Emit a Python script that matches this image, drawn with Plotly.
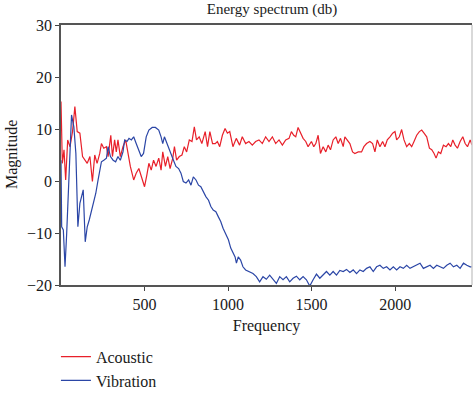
import plotly.graph_objects as go

acoustic_freq = [0, 8, 18, 28, 40, 54, 69, 83, 97, 113, 129, 143, 157, 173, 188, 202, 216, 232, 242, 256,
                 272, 282, 298, 308, 321, 331, 341, 355, 371, 387, 401, 415, 435, 450, 466, 480, 500, 514, 526, 540,
                 554, 569, 585, 599, 609, 625, 639, 653, 669, 679, 692, 708, 724, 738, 752, 768, 784, 798, 811, 827,
                 843, 863, 877, 891, 907, 923, 936, 950, 966, 982, 996, 1010, 1029, 1049, 1069, 1085, 1105, 1125, 1145, 1165,
                 1185, 1205, 1225, 1245, 1265, 1285, 1305, 1325, 1345, 1365, 1379, 1393, 1405, 1419, 1433, 1449, 1465, 1479, 1499, 1513,
                 1525, 1539, 1553, 1569, 1585, 1599, 1613, 1629, 1645, 1659, 1673, 1689, 1699, 1713, 1729, 1745, 1759, 1779, 1799, 1813,
                 1829, 1849, 1865, 1879, 1893, 1909, 1925, 1939, 1953, 1969, 1985, 1999, 2009, 2025, 2039, 2053, 2069, 2085, 2099, 2113,
                 2129, 2145, 2159, 2173, 2189, 2205, 2219, 2233, 2245, 2259, 2273, 2289, 2305, 2319, 2333, 2345, 2359, 2373, 2389, 2405,
                 2419, 2433, 2449, 2460]
acoustic_mag = [15.3, 3.4, 6.0, 0.2, 7.9, 6.6, 9.5, 14.3, 9.5, 9.2, 4.7, 4.0, 3.4, 4.7, -0.1, 5.0, 3.4, 5.3, 7.2, 6.3,
                6.6, 4.7, 8.8, 4.7, 7.9, 5.6, 7.9, 4.7, 6.6, 7.9, 5.3, 2.8, 0.2, 1.5, 2.4, 0.8, -1.1, 1.2, 3.4, 2.1,
                4.0, 2.8, 4.4, 2.1, 5.6, 2.8, 4.7, 2.4, 4.4, 6.6, 4.0, 4.7, 5.0, 6.6, 5.6, 7.9, 7.6, 10.4, 7.9, 8.5,
                7.2, 9.5, 6.6, 9.5, 7.2, 7.2, 7.6, 6.6, 8.8, 10.1, 9.2, 9.5, 6.6, 8.2, 6.9, 8.5, 7.2, 7.6, 6.9, 7.6,
                7.9, 7.2, 8.5, 7.6, 8.5, 7.2, 7.9, 6.9, 7.9, 8.2, 9.5, 8.8, 8.5, 10.3, 9.2, 8.2, 7.6, 6.6, 7.6, 6.6,
                7.2, 8.8, 5.3, 6.6, 5.6, 6.9, 6.0, 7.9, 8.5, 7.2, 8.2, 6.6, 8.5, 7.9, 7.2, 5.6, 5.3, 5.6, 5.6, 6.6,
                7.2, 7.6, 7.2, 5.6, 7.9, 6.6, 7.6, 6.6, 7.9, 8.5, 9.2, 9.5, 7.9, 8.5, 9.9, 7.9, 6.6, 7.2, 6.6, 7.6,
                8.8, 9.5, 9.8, 9.2, 8.5, 6.3, 6.0, 5.3, 4.4, 5.6, 5.3, 6.9, 6.6, 7.2, 6.6, 7.9, 6.9, 6.3, 7.6, 8.5,
                7.2, 6.6, 7.9, 6.9]

vibration_freq = [0, 4, 14, 24, 34, 44, 54, 63, 77, 89, 101, 113, 123, 133, 145, 157, 169, 183, 196, 208,
                  222, 232, 242, 256, 272, 282, 296, 312, 327, 341, 355, 371, 381, 395, 407, 421, 435, 450, 466, 480,
                  494, 510, 526, 546, 565, 585, 599, 609, 619, 629, 645, 659, 673, 688, 704, 718, 732, 748, 764, 778,
                  792, 808, 823, 837, 851, 867, 883, 897, 911, 927, 942, 956, 970, 986, 1002, 1016, 1030, 1042, 1050, 1061,
                  1075, 1089, 1105, 1121, 1129, 1149, 1169, 1189, 1209, 1229, 1249, 1269, 1289, 1309, 1329, 1349, 1369, 1389, 1409, 1429,
                  1449, 1469, 1489, 1509, 1529, 1549, 1569, 1589, 1609, 1629, 1649, 1669, 1689, 1709, 1729, 1749, 1769, 1789, 1809, 1829,
                  1849, 1869, 1889, 1909, 1929, 1949, 1969, 1989, 2009, 2029, 2049, 2069, 2089, 2109, 2129, 2149, 2169, 2189, 2209, 2229,
                  2249, 2269, 2289, 2309, 2329, 2349, 2369, 2389, 2409, 2429, 2449, 2460]
vibration_mag = [4.0, -8.8, -9.4, -16.5, -10.1, -1.1, 7.2, 12.7, 10.4, 5.3, -8.8, -4.3, -3.0, -1.7, -11.7, -8.8, -7.5, -5.6, -4.3, -2.4,
                 0.2, 2.1, 3.7, 4.0, 4.4, 6.6, 4.7, 4.0, 3.7, 4.7, 4.0, 5.6, 7.9, 7.6, 8.2, 7.9, 8.5, 7.2, 6.0, 4.7,
                 5.3, 8.5, 9.8, 10.3, 10.3, 9.8, 8.5, 7.2, 8.5, 7.6, 6.3, 5.0, 4.0, 2.8, 2.4, 1.5, -0.1, -0.4, 0.2, -0.8,
                 0.8, 0.2, -0.8, -1.1, -2.1, -3.0, -3.7, -4.9, -5.6, -5.9, -6.9, -7.8, -9.1, -10.1, -11.3, -12.9, -13.9, -14.6, -15.8, -14.6,
                 -15.2, -16.5, -17.1, -17.4, -17.4, -17.8, -18.4, -19.4, -18.4, -18.9, -18.1, -19.0, -19.7, -18.4, -19.0, -18.4, -19.4, -18.7, -18.3, -19.0,
                 -18.4, -19.0, -20.2, -19.0, -17.9, -18.7, -18.1, -17.4, -18.1, -17.4, -18.1, -17.2, -17.4, -17.0, -17.6, -17.1, -17.8, -17.1, -17.4, -16.8,
                 -16.5, -17.4, -16.5, -16.2, -16.8, -16.5, -17.1, -16.5, -17.1, -16.5, -16.8, -16.2, -16.8, -16.5, -16.2, -15.8, -16.8, -16.5, -16.2, -16.8,
                 -16.2, -16.5, -16.8, -16.2, -15.8, -16.5, -16.2, -16.8, -15.8, -16.2, -16.5, -16.5]

x_ticks = [500, 1000, 1500, 2000]
y_ticks = [-20, -10, 0, 10, 20, 30]

serif = "Liberation Serif, Times New Roman, serif"
text_color = "#1a1a1a"

fig = go.Figure()
fig.add_trace(go.Scatter(x=acoustic_freq, y=acoustic_mag, mode="lines", name="Acoustic",
                         line=dict(color="#e8202a", width=1.2)))
fig.add_trace(go.Scatter(x=vibration_freq, y=vibration_mag, mode="lines", name="Vibration",
                         line=dict(color="#2b46a6", width=1.2)))

fig.update_layout(
    width=474, height=394,
    margin=dict(l=61, r=2, t=25, b=109, autoexpand=False),
    paper_bgcolor="white", plot_bgcolor="white",
    font=dict(family=serif, size=16, color=text_color),
    title=dict(text="Energy spectrum (db)", x=0.574, xref="container", xanchor="center",
               y=0.978, yref="container", yanchor="middle",
               font=dict(family=serif, size=15, color=text_color)),
    showlegend=True,
    legend=dict(x=0.118, y=0.138, xref="container", yref="container", xanchor="left", yanchor="top",
                orientation="v", font=dict(family=serif, size=16, color=text_color),
                bgcolor="rgba(0,0,0,0)", tracegroupgap=0),
    annotations=[dict(text="Magnitude", xref="paper", yref="paper", x=-0.119, y=0.5,
                      xanchor="center", yanchor="middle", textangle=-90, showarrow=False,
                      font=dict(family=serif, size=16, color=text_color))],
)
fig.update_xaxes(range=[0, 2460], tickvals=x_ticks, ticks="outside", ticklen=4, tickcolor="#444444",
                 showline=True, linecolor="#555555", linewidth=1.5, mirror=True, showgrid=False, zeroline=False,
                 title=dict(text="Frequency", standoff=8, font=dict(family=serif, size=16)),
                 tickfont=dict(family=serif, size=16))
fig.update_yaxes(range=[-20, 30], tickvals=y_ticks, ticks="outside", ticklen=4, tickcolor="#444444",
                 showline=True, linecolor="#555555", linewidth=1.5, showgrid=False, zeroline=False,
                 tickfont=dict(family=serif, size=16))
fig.add_shape(type="line", xref="paper", yref="paper", x0=1, x1=1, y0=0, y1=1,
              line=dict(color="#cccccc", width=1.5))

fig.write_html("out.html", config={"displayModeBar": False},
               post_script="document.body.style.margin='0';document.body.style.padding='0';")
